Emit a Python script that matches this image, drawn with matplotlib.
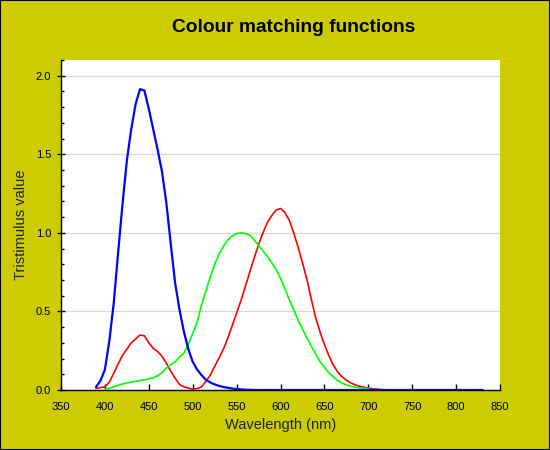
import matplotlib
matplotlib.use("Agg")
import matplotlib.pyplot as plt
from matplotlib.ticker import MultipleLocator, FormatStrFormatter
from matplotlib.patches import Rectangle

plt.rcParams['font.family'] = ['Liberation Sans', 'DejaVu Sans']

# Wavelengths (nm) and tristimulus values
wl_red = list(range(390, 720, 5))
red = [0.01, 0.015, 0.02, 0.05, 0.105, 0.165, 0.22, 0.26, 0.30, 0.325,
       0.35, 0.345, 0.30, 0.265, 0.245, 0.215, 0.17, 0.12, 0.075, 0.035,
       0.02, 0.012, 0.006, 0.008, 0.02, 0.055, 0.095, 0.15, 0.205, 0.26,
       0.33, 0.41, 0.49, 0.57, 0.66, 0.75, 0.84, 0.925, 1.0, 1.065,
       1.11, 1.145, 1.155, 1.13, 1.08, 1.0, 0.91, 0.81, 0.705, 0.58,
       0.46, 0.37, 0.29, 0.22, 0.16, 0.115, 0.085, 0.062, 0.045, 0.033,
       0.024, 0.018, 0.012, 0.008, 0.005, 0.003]

wl_green = list(range(400, 705, 5))
green = [0.005, 0.01, 0.02, 0.03, 0.038, 0.045, 0.05, 0.055, 0.06, 0.065,
         0.07, 0.078, 0.09, 0.11, 0.14, 0.162, 0.18, 0.21, 0.235, 0.29,
         0.36, 0.43, 0.54, 0.63, 0.72, 0.8, 0.865, 0.915, 0.955, 0.98,
         0.995, 1.0, 0.995, 0.985, 0.955, 0.92, 0.885, 0.85, 0.81, 0.765,
         0.71, 0.645, 0.575, 0.51, 0.445, 0.39, 0.33, 0.28, 0.23, 0.18,
         0.145, 0.11, 0.085, 0.06, 0.045, 0.032, 0.024, 0.018, 0.014, 0.011,
         0.009]

wl_blue = list(range(390, 575, 5)) + [830]
blue = [0.02, 0.06, 0.13, 0.31, 0.55, 0.87, 1.18, 1.46, 1.66, 1.82,
        1.915, 1.905, 1.79, 1.66, 1.53, 1.39, 1.19, 0.93, 0.68, 0.51,
        0.37, 0.26, 0.18, 0.13, 0.095, 0.065, 0.048, 0.036, 0.026, 0.019,
        0.014, 0.009, 0.006, 0.004, 0.002, 0.001, 0.0, 0.0]

title = "Colour matching functions"
xlabel = "Wavelength (nm)"
ylabel = "Tristimulus value"

bg = "#CCCC00"
fig = plt.figure(figsize=(5.5, 4.5), dpi=100, facecolor=bg)
ax = fig.add_axes([61/550, 60/450, 439/550, 330/450])
ax.set_facecolor("white")

ax.plot(wl_red, red, color="#FF0000", lw=1.2, zorder=3)
ax.plot(wl_green, green, color="#00FF00", lw=1.2, zorder=3)
ax.plot(wl_blue, blue, color="#0000FF", lw=1.6, zorder=4)

ax.set_xlim(350, 850)
ax.set_ylim(0, 2.1)
ax.xaxis.set_major_locator(MultipleLocator(50))
ax.yaxis.set_major_locator(MultipleLocator(0.5))
ax.yaxis.set_minor_locator(MultipleLocator(0.1))
ax.yaxis.set_major_formatter(FormatStrFormatter("%.1f"))

ax.grid(axis="y", which="major", color="#d9d9d9", lw=0.9, zorder=0)
ax.set_axisbelow(True)

for s in ("top", "right"):
    ax.spines[s].set_visible(False)
for s in ("left", "bottom"):
    ax.spines[s].set_color("black")
    ax.spines[s].set_linewidth(1.0)

ax.tick_params(axis="x", which="major", direction="in", length=4, width=1,
               pad=9, labelsize=8, colors="black")
ax.tick_params(axis="y", which="major", direction="inout", length=6, width=1,
               pad=4, labelsize=8, colors="black")
ax.tick_params(axis="y", which="minor", direction="in", length=2.5, width=1)

ax.set_xlabel(xlabel, fontsize=10.5, color="#222222", va="center")
ax.xaxis.set_label_coords(0.5, -0.106)
ax.set_ylabel(ylabel, fontsize=10.5, color="#222222", va="center")
ax.yaxis.set_label_coords(-0.092, 0.5)

fig.text(293.7/550, 1 - 28/450, title, ha="center", va="center",
         fontsize=13.8, fontweight="bold", color="black")

fig.patches.append(Rectangle((0, 0), 1, 1, transform=fig.transFigure,
                             fill=False, edgecolor="black", lw=1.5))

fig.savefig("out.png", dpi=100, facecolor=bg)
